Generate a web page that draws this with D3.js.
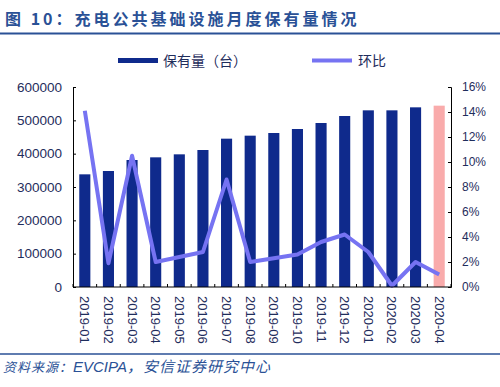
<!DOCTYPE html>
<html>
<head>
<meta charset="utf-8">
<script src="https://cdn.jsdelivr.net/npm/d3@7"></script>
<style>
  body { margin: 0; background: #fff; }
  svg { display: block; font-family: "Liberation Sans", Arial, sans-serif; }
</style>
</head>
<body>
<div id="chart"></div>
<script>
// data
var months = ["2019-01","2019-02","2019-03","2019-04","2019-05","2019-06","2019-07","2019-08",
              "2019-09","2019-10","2019-11","2019-12","2020-01","2020-02","2020-03","2020-04"];
var stock = [338000, 348000, 381000, 389000, 398000, 411000, 445000, 454000,
             462000, 474000, 492000, 513000, 530000, 530000, 539000, 544000];
var mom = [14.1, 1.9, 10.5, 2.0, 2.4, 2.8, 8.6, 2.0, 2.3, 2.6, 3.6, 4.2, 2.8, 0.1, 2.0, 1.0];
var leftTicks = [0, 100000, 200000, 300000, 400000, 500000, 600000];
var rightTicks = [0, 2, 4, 6, 8, 10, 12, 14, 16];

var width = 500, height = 387
var pLeft = 73, pRight = 451, pTop = 87, pBottom = 287

var navy = "#0f2a8c", lineCol = "#7673f2", pink = "#f9abab", txt = "#1f2d5c", blue = "#2a5196"

var svg = d3.select("#chart").append("svg")
    .attr("width", width).attr("height", height)

// title
svg.append("text").attr("x", 5).attr("y", 25)
  .attr("fill", blue).style("font-size", "16px").style("font-weight", "bold")
  .style("letter-spacing", "3px")
  .style("font-family", "'Noto Sans CJK SC', sans-serif")
  .text("图 10：充电公共基础设施月度保有量情况")
svg.append("line").attr("x1", 0).attr("x2", 500).attr("y1", 33.5).attr("y2", 33.5)
  .attr("stroke", blue).attr("stroke-width", 2)

var x = d3.scaleBand().domain(months).range([pLeft, pRight])
    .paddingInner(0.53).paddingOuter(0.265)
var y = d3.scaleLinear().domain([0, 600000]).range([pBottom, pTop])
var y2 = d3.scaleLinear().domain([0, 16]).range([pBottom, pTop])

// bars
svg.selectAll(".bar").data(stock).enter().append("rect")
  .attr("x", function(d, i) { return x(months[i]) })
  .attr("y", function(d) { return y(d) })
  .attr("width", x.bandwidth())
  .attr("height", function(d) { return pBottom - y(d) })
  .attr("fill", function(d, i) { return i == months.length - 1 ? pink : navy })

// line
var line = d3.line()
  .x(function(d, i) { return x(months[i]) + x.bandwidth() / 2 })
  .y(function(d) { return y2(d) })
svg.append("path").datum(mom).attr("d", line)
  .attr("fill", "none").attr("stroke", lineCol).attr("stroke-width", 4)
  .attr("stroke-linejoin", "round")

// left axis
var gl = svg.append("g").attr("transform", "translate(" + pLeft + ",0)")
  .call(d3.axisLeft(y).tickValues(leftTicks).tickSize(-3).tickPadding(11).tickFormat(d3.format("d")))
gl.selectAll("text").attr("fill", txt).style("font-size", "13.5px")

// right axis
var gr = svg.append("g").attr("transform", "translate(" + pRight + ",0)")
  .call(d3.axisRight(y2).tickValues(rightTicks).tickSize(-3).tickPadding(11)
    .tickFormat(function(d) { return d + "%" }))
gr.selectAll("text").attr("fill", txt).style("font-size", "12px")

// bottom axis: ticks at band boundaries, rotated labels
var gb = svg.append("g").attr("transform", "translate(0," + pBottom + ")")
gb.append("line").attr("x1", pLeft).attr("x2", pRight).attr("stroke", "#000")
gb.selectAll(".bt").data(d3.range(months.length + 1)).enter().append("line")
  .attr("x1", function(i) { return pLeft + i * x.step() })
  .attr("x2", function(i) { return pLeft + i * x.step() })
  .attr("y1", 0).attr("y2", -3).attr("stroke", "#000")
gb.selectAll(".lab").data(months).enter().append("text")
  .attr("transform", function(d) {
    return "translate(" + (x(d) + x.bandwidth() / 2) + ",9) rotate(90)" })
  .attr("dy", "0.35em").attr("fill", txt).style("font-size", "13px")
  .text(function(d) { return d })

gl.select(".domain").attr("stroke", "#000")
gr.select(".domain").attr("stroke", "#000")

// legend
svg.append("rect").attr("x", 118).attr("y", 58).attr("width", 40).attr("height", 5).attr("fill", navy)
svg.append("text").attr("x", 163).attr("y", 66).attr("fill", txt)
  .style("font-size", "14px").style("font-family", "'Noto Sans CJK SC', sans-serif")
  .text("保有量（台）")
svg.append("line").attr("x1", 312).attr("x2", 352).attr("y1", 60.5).attr("y2", 60.5)
  .attr("stroke", lineCol).attr("stroke-width", 4)
svg.append("text").attr("x", 358).attr("y", 66).attr("fill", txt)
  .style("font-size", "14px").style("font-family", "'Noto Sans CJK SC', sans-serif")
  .text("环比")

// source
svg.append("line").attr("x1", 0).attr("x2", 500).attr("y1", 354).attr("y2", 354)
  .attr("stroke", blue).attr("stroke-width", 1.5)
var src = svg.append("text").attr("x", 3).attr("y", 372).attr("fill", blue)
  .style("font-style", "italic")
  .style("font-family", "'Liberation Sans', 'Noto Sans CJK SC', sans-serif")
src.append("tspan").style("font-size", "13px").style("letter-spacing", "1px").text("资料来源：")
src.append("tspan").style("font-size", "15px").text("EVCIPA")
src.append("tspan").style("font-size", "15px").style("letter-spacing", "1px").text("，安信证券研究中心")
</script>
</body>
</html>
